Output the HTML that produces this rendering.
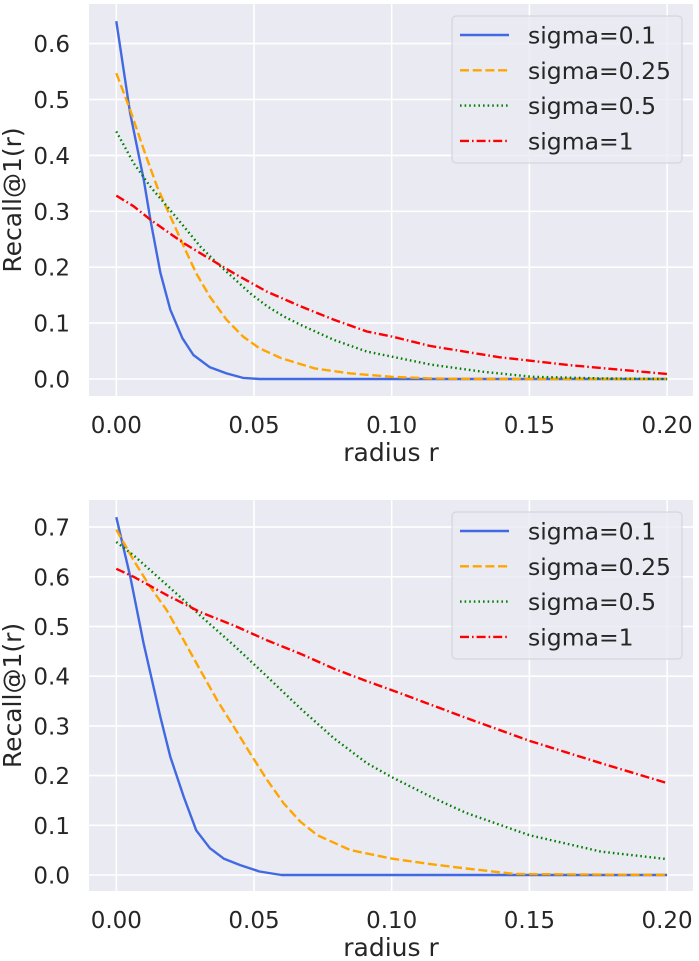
<!DOCTYPE html>
<html><head><meta charset="utf-8"><style>
body{margin:0;background:#fff;}
svg{display:block;font-family:"DejaVu Sans","Liberation Sans",sans-serif;}
</style></head><body>
<svg id="chart" width="699" height="961" viewBox="0 0 699 961" xmlns="http://www.w3.org/2000/svg"></svg>
<script>
// ---- data ----
const seriesNames = ["sigma=0.1","sigma=0.25","sigma=0.5","sigma=1"];
const xTicks = [0,0.05,0.1,0.15,0.2];
const xTickLabels = ["0.00","0.05","0.10","0.15","0.20"];
const yTicksTop = [0,0.1,0.2,0.3,0.4,0.5,0.6];
const yTicksBottom = [0,0.1,0.2,0.3,0.4,0.5,0.6,0.7];

// top panel
const topS1x = [0,0.005,0.01,0.0124,0.016,0.0196,0.024,0.028,0.034,0.04,0.046,0.052,0.1,0.2];
const topS1y = [0.64,0.476,0.356,0.285,0.19,0.124,0.073,0.043,0.021,0.010,0.002,0,0,0];
const topS2x = [0,0.005,0.01,0.0148,0.0196,0.0245,0.029,0.034,0.04,0.046,0.052,0.06,0.072,0.085,0.1,0.114,0.13,0.2];
const topS2y = [0.547,0.482,0.41,0.344,0.291,0.237,0.189,0.147,0.106,0.076,0.055,0.037,0.019,0.010,0.004,0.001,0,0];
const topS3x = [0,0.0063,0.0124,0.0184,0.0245,0.0305,0.0366,0.0427,0.0487,0.0548,0.0608,0.0669,0.079,0.091,0.1,0.114,0.133,0.151,0.176,0.2];
const topS3y = [0.443,0.386,0.344,0.309,0.273,0.237,0.207,0.18,0.153,0.13,0.112,0.097,0.07,0.049,0.04,0.026,0.013,0.004,0.001,0];
const topS4x = [0,0.0063,0.0124,0.0184,0.0245,0.0305,0.0427,0.0548,0.0669,0.079,0.091,0.1,0.114,0.139,0.164,0.2];
const topS4y = [0.328,0.309,0.285,0.264,0.243,0.225,0.189,0.156,0.13,0.106,0.085,0.076,0.059,0.039,0.025,0.009];

// bottom panel
const botS1x = [0,0.0051,0.0099,0.016,0.0196,0.0245,0.029,0.034,0.039,0.045,0.052,0.06,0.2];
const botS1y = [0.72,0.6,0.466,0.318,0.238,0.157,0.09,0.054,0.033,0.02,0.007,0,0];
const botS2x = [0,0.0063,0.0124,0.0184,0.0245,0.0305,0.0366,0.0427,0.0487,0.0548,0.0608,0.0669,0.073,0.085,0.1,0.114,0.127,0.145,0.2];
const botS2y = [0.695,0.633,0.579,0.532,0.472,0.412,0.352,0.298,0.244,0.191,0.144,0.107,0.08,0.05,0.033,0.022,0.013,0.002,0];
const botS3x = [0,0.0063,0.0124,0.0184,0.0245,0.0305,0.0427,0.0548,0.0669,0.079,0.091,0.1,0.114,0.127,0.15,0.176,0.2];
const botS3y = [0.67,0.643,0.613,0.583,0.553,0.522,0.462,0.399,0.335,0.275,0.225,0.197,0.158,0.125,0.08,0.047,0.032];
const botS4x = [0,0.0063,0.0184,0.0305,0.0427,0.0548,0.0669,0.079,0.091,0.1,0.114,0.127,0.15,0.176,0.2];
const botS4y = [0.616,0.6,0.563,0.529,0.502,0.472,0.445,0.415,0.39,0.372,0.343,0.316,0.27,0.225,0.185];

const NS = "http://www.w3.org/2000/svg";
const svg = document.getElementById("chart");
const colors = ["#4169e1","#ffa500","#008000","#ff0000"];
const dashes = ["none","9,3.7","1.6,3","9,3,1.6,3"];

function mk(tag, attrs, parent){
  const e = document.createElementNS(NS, tag);
  for (const k in attrs) e.setAttribute(k, attrs[k]);
  parent.appendChild(e);
  return e;
}

function panel(idx, top, bottom, y0px, perUnit, yTicks, sx, sy){
  const L = 89, R = 693, x0 = 116.3, xPer = 2754;
  const xs = v => x0 + v * xPer;
  const ys = v => y0px - v * perUnit;
  const g = mk("g", {}, svg);
  
  
  const bg = mk("rect", {x:L, y:top, width:R-L, height:bottom-top, fill:"#eaeaf2"}, g);
  
  
  yTicks.forEach(t => {
    const gl = mk("line", {x1:L, x2:R, y1:ys(t), y2:ys(t), stroke:"#fff", "stroke-width":1.6}, g);
    
    
    const tl = mk("text", {x:70, y:ys(t)+8.5, "text-anchor":"end", "font-size":23, fill:"#262626"}, g);
    tl.textContent = t.toFixed(1);
    
    
  });
  xTicks.forEach((t, i) => {
    const gl = mk("line", {x1:xs(t), x2:xs(t), y1:top, y2:bottom, stroke:"#fff", "stroke-width":1.6}, g);
    
    
    const tl = mk("text", {x:xs(t), y:bottom+37, "text-anchor":"middle", "font-size":23, fill:"#262626"}, g);
    tl.textContent = xTickLabels[i];
    
    
  });
  const xt = mk("text", {x:391, y:bottom+65, "text-anchor":"middle", "font-size":25, fill:"#262626"}, g);
  xt.textContent = "radius r";
  
  
  const cy = (top+bottom)/2;
  const yt = mk("text", {x:0, y:0, "text-anchor":"middle", "font-size":25, fill:"#262626", transform:`translate(21,${cy}) rotate(-90)`}, g);
  yt.textContent = "Recall@1(r)";
  
  
  for (let s = 0; s < 4; s++){
    const d = sx[s].map((v,i) => (i?"L":"M") + xs(v).toFixed(1) + "," + ys(sy[s][i]).toFixed(1)).join(" ");
    const p = mk("path", {d:d, fill:"none", stroke:colors[s], "stroke-width":2.4, "stroke-dasharray":dashes[s], "stroke-linejoin":"round"}, g);
    
    
  }
  // legend
  const lt = top + 12;
  const lg = mk("g", {}, g);
  
  
  mk("rect", {x:452, y:lt, width:230, height:147, rx:4, fill:"#eaeaf2", "fill-opacity":0.8, stroke:"#d0d0d8", "stroke-width":1}, lg);
  for (let s = 0; s < 4; s++){
    const ry = lt + 19 + s*35.3;
    const ln = mk("line", {x1:460, x2:509, y1:ry, y2:ry, stroke:colors[s], "stroke-width":2.4, "stroke-dasharray":dashes[s]}, lg);
    
    
    const tx = mk("text", {x:528, y:ry+8.5, "font-size":23.5, fill:"#262626"}, lg);
    tx.textContent = seriesNames[s];
    
    
  }
}

panel("top", 4, 396, 379, 559, yTicksTop, [topS1x,topS2x,topS3x,topS4x], [topS1y,topS2y,topS3y,topS4y]);
panel("bottom", 500, 891, 875, 497, yTicksBottom, [botS1x,botS2x,botS3x,botS4x], [botS1y,botS2y,botS3y,botS4y]);
</script>
</body></html>
